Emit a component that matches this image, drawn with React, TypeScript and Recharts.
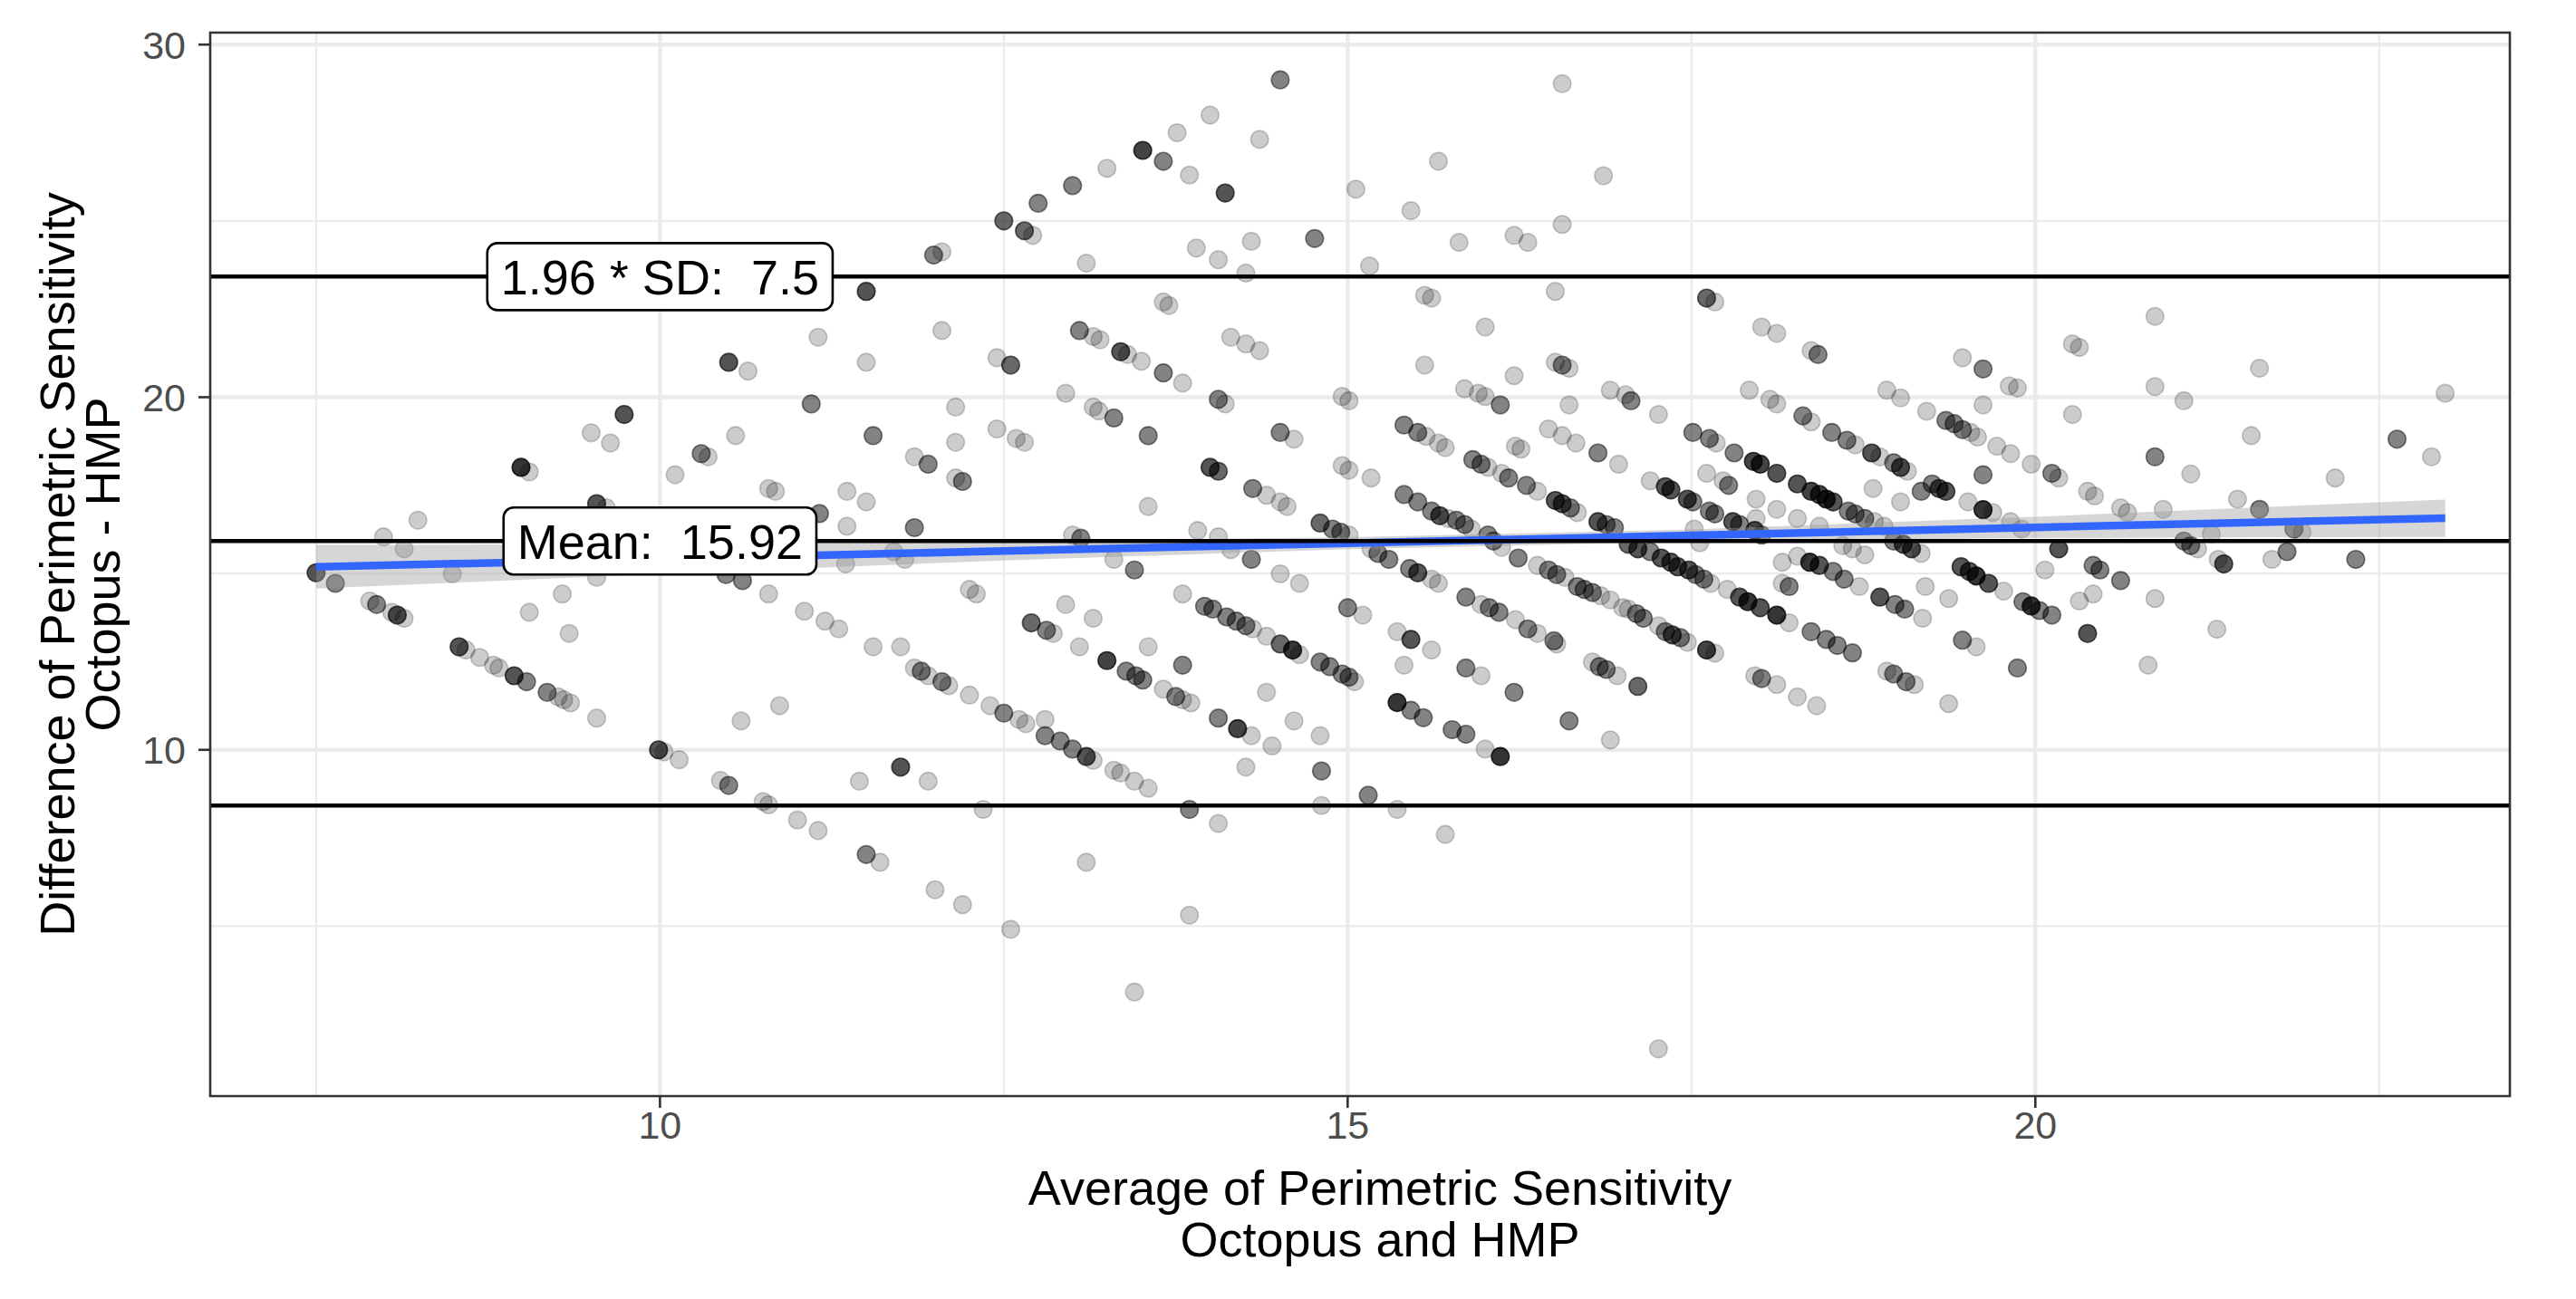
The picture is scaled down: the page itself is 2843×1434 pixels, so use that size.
import React from 'react'
import {
  ComposedChart,
  Scatter,
  Area,
  Line,
  XAxis,
  YAxis,
  ReferenceLine,
  ReferenceArea,
} from 'recharts'

const FONT = '"Liberation Sans", Arial, Helvetica, sans-serif'

// Bland-Altman observations: [average, difference, overlapping observations]
const obs: [number, number, number][] = [
  [7.5, 15.02, 5], [7.64, 14.72, 3], [7.89, 14.22, 1], [7.94, 14.12, 3], [8.05, 13.9, 1], [8.09, 13.82, 5],
  [8.14, 13.73, 1], [7.99, 16.04, 1], [8.14, 15.7, 1], [8.24, 16.51, 1], [8.49, 14.99, 1], [8.54, 12.92, 5],
  [8.59, 12.83, 1], [8.69, 12.62, 1], [8.79, 12.4, 1], [8.83, 12.32, 1], [8.94, 12.1, 5], [9.03, 11.93, 3],
  [9.18, 11.63, 3], [9.26, 11.5, 1], [9.3, 11.42, 1], [9.35, 11.33, 1], [9.54, 10.9, 1], [8.99, 18.01, 7],
  [9.05, 17.88, 1], [9.5, 18.99, 1], [9.64, 18.7, 1], [9.74, 19.51, 5], [9.54, 16.98, 5], [9.61, 16.86, 1],
  [9.29, 14.42, 1], [9.05, 13.9, 1], [9.34, 13.3, 1], [9.54, 14.89, 1], [10.11, 17.8, 1], [10.3, 18.4, 3],
  [10.35, 18.31, 1], [10.55, 18.91, 1], [10.79, 17.41, 1], [10.84, 17.33, 1], [10.48, 14.97, 3], [10.6, 14.8, 3],
  [10.79, 14.42, 1], [10.87, 11.25, 1], [10.59, 10.82, 1], [9.99, 10.0, 5], [10.03, 9.94, 1], [10.14, 9.72, 1],
  [10.44, 9.13, 1], [10.5, 8.99, 3], [10.75, 8.53, 1], [10.79, 8.44, 1], [10.5, 20.99, 5], [10.64, 20.74, 1],

  [14.51, 29.0, 3], [14.0, 28.0, 1], [13.76, 27.5, 1], [13.51, 27.0, 6], [13.66, 26.69, 3], [13.85, 26.3, 1],
  [14.11, 25.79, 5], [14.36, 27.31, 1], [13.25, 26.49, 1], [13.0, 26.0, 3], [12.75, 25.5, 3], [12.5, 25.0, 4],
  [12.65, 24.72, 4], [12.71, 24.59, 1], [15.06, 25.9, 1], [14.76, 24.5, 3], [14.3, 24.42, 1], [13.9, 24.23, 1],
  [14.06, 23.9, 1], [14.26, 23.52, 1], [13.1, 23.8, 1], [11.99, 24.03, 3], [12.05, 24.12, 1], [11.5, 23.0, 5],
  [11.15, 21.7, 1], [11.5, 20.99, 1], [12.05, 21.89, 1], [12.45, 21.12, 1], [12.55, 20.91, 4], [13.05, 21.89, 3],
  [13.15, 21.72, 1], [13.2, 21.63, 1], [13.35, 21.29, 5], [13.4, 21.21, 1], [13.5, 21.02, 1], [13.66, 20.69, 3],
  [13.8, 20.4, 1], [13.66, 22.7, 1], [13.7, 22.6, 1], [14.15, 21.7, 1], [14.26, 21.51, 1], [14.36, 21.32, 1],

  [16.56, 28.89, 1], [15.66, 26.69, 1], [16.86, 26.28, 1], [15.46, 25.29, 1], [16.56, 24.9, 1], [15.81, 24.39, 1],
  [16.21, 24.59, 1], [16.31, 24.39, 1], [15.16, 23.72, 1], [15.56, 22.89, 1], [15.61, 22.81, 1], [16.51, 23.0, 1],
  [16.0, 21.99, 1], [17.61, 22.81, 4], [17.67, 22.7, 1], [18.01, 21.99, 1], [18.12, 21.81, 1], [18.37, 21.32, 1],
  [18.42, 21.21, 3], [15.56, 20.91, 1], [16.21, 20.61, 1], [16.51, 20.99, 1], [16.56, 20.91, 3], [16.61, 20.82, 1],
  [20.87, 22.29, 1], [20.27, 21.51, 1], [20.32, 21.41, 1], [19.47, 21.12, 1], [19.62, 20.8, 3], [21.63, 20.82, 1],

  [11.1, 19.81, 3], [12.15, 19.72, 1], [11.55, 18.91, 3], [12.15, 18.72, 1], [11.85, 18.31, 1], [11.95, 18.1, 3],
  [12.15, 17.71, 1], [12.2, 17.61, 3], [11.36, 17.33, 1], [11.5, 17.03, 1], [11.16, 16.7, 3], [11.36, 16.34, 1],
  [11.85, 16.3, 3], [11.7, 15.62, 1], [11.78, 15.4, 1], [11.35, 15.27, 1], [12.25, 14.55, 1], [12.3, 14.42, 1],
  [11.05, 13.93, 1], [11.2, 13.65, 1], [11.3, 13.43, 1], [11.55, 12.92, 1], [11.75, 12.92, 1], [11.85, 12.32, 1],
  [11.9, 12.23, 3], [11.95, 12.1, 1], [12.05, 11.93, 3], [12.1, 11.82, 1], [12.25, 11.55, 1], [12.4, 11.25, 1],
  [12.5, 11.04, 3], [12.61, 10.86, 1], [12.66, 10.74, 1], [12.8, 10.86, 1], [12.8, 10.4, 3], [12.91, 10.25, 3],
  [12.95, 20.11, 1], [12.45, 19.1, 1], [12.59, 18.83, 1], [12.65, 18.72, 1], [13.15, 19.72, 1], [13.19, 19.61, 1],
  [13.3, 19.41, 3], [13.55, 18.91, 3], [14.06, 19.94, 3], [14.11, 19.81, 1], [14.0, 18.01, 5], [14.06, 17.9, 4],
  [14.31, 17.41, 3], [14.41, 17.22, 1], [14.51, 17.03, 1], [14.56, 16.9, 1], [14.51, 19.0, 3], [14.61, 18.81, 1],
  [13.55, 16.9, 1], [13.91, 16.22, 1], [14.8, 16.43, 4], [14.89, 16.26, 3], [14.95, 16.17, 3], [15.01, 16.09, 1],
  [13.0, 16.09, 1], [13.06, 16.0, 3], [14.06, 16.04, 1], [14.15, 15.68, 1], [14.3, 15.4, 3], [13.3, 15.4, 1],
  [13.45, 15.1, 3], [14.51, 14.99, 1], [14.65, 14.72, 1], [13.8, 14.42, 1], [13.96, 14.07, 3], [14.02, 13.99, 3],
  [14.12, 13.77, 3], [14.19, 13.65, 3], [14.26, 13.52, 3], [14.31, 13.43, 1], [14.41, 13.22, 1], [14.51, 13.0, 4],
  [14.6, 12.83, 7], [14.65, 12.7, 1], [14.8, 12.49, 3], [14.87, 12.36, 3], [14.96, 12.15, 3], [15.01, 12.06, 3],
  [15.05, 11.93, 1], [15.0, 14.03, 3], [14.96, 20.02, 1], [15.01, 19.9, 1], [14.96, 18.06, 1], [15.01, 17.93, 1],
  [12.7, 13.6, 4], [12.81, 13.39, 3], [12.86, 13.3, 1], [12.95, 14.12, 1], [13.15, 13.73, 1], [13.05, 12.92, 1],
  [13.25, 12.53, 6], [13.39, 12.23, 3], [13.46, 12.1, 3], [13.51, 11.98, 3], [13.66, 11.72, 1], [13.75, 11.51, 3],
  [13.8, 11.42, 1], [13.86, 11.33, 1], [13.55, 12.92, 1], [13.8, 12.4, 3], [14.41, 11.63, 1], [14.06, 10.9, 3],
  [14.2, 10.6, 6], [14.3, 10.4, 1], [14.61, 10.82, 1], [14.8, 10.4, 1],

  [11.75, 9.51, 5], [11.45, 9.11, 1], [11.95, 9.11, 1], [12.35, 8.31, 1], [11.0, 8.01, 1], [11.15, 7.71, 1],
  [11.5, 7.03, 3], [11.6, 6.81, 1], [12.0, 6.03, 1], [12.2, 5.61, 1], [12.55, 4.91, 1], [13.0, 10.02, 3],
  [13.1, 9.81, 5], [13.15, 9.7, 1], [13.3, 9.42, 1], [13.35, 9.34, 1], [13.45, 9.11, 1], [13.55, 8.91, 1],
  [13.1, 6.81, 1], [13.45, 3.13, 1], [13.85, 8.31, 3], [14.06, 7.91, 1], [13.85, 5.31, 1], [14.26, 9.51, 1],
  [14.45, 10.11, 1], [14.81, 9.4, 3], [14.81, 8.42, 1],

  [15.85, 20.24, 1], [15.95, 20.11, 1], [16.0, 20.02, 1], [16.11, 19.78, 3], [16.61, 19.78, 1], [16.91, 20.2, 1],
  [17.02, 20.07, 1], [17.06, 19.9, 3], [17.26, 19.51, 1], [17.92, 20.2, 1], [18.07, 19.94, 1], [18.12, 19.81, 1],
  [18.31, 19.47, 3], [18.37, 19.3, 1], [18.52, 19.0, 3], [18.63, 18.78, 3], [18.69, 18.65, 1], [18.81, 18.42, 5],
  [18.87, 18.31, 1], [18.97, 18.14, 3], [19.02, 18.01, 5], [19.07, 17.9, 1], [18.92, 20.2, 1], [19.02, 19.98, 1],
  [19.17, 17.33, 3], [19.21, 19.6, 1], [15.41, 19.21, 3], [15.51, 19.0, 3], [15.57, 18.89, 1], [15.66, 18.7, 1],
  [15.71, 18.57, 1], [16.46, 19.1, 1], [16.56, 18.91, 1], [16.66, 18.7, 1], [16.82, 18.42, 3], [16.97, 18.1, 1],
  [16.22, 18.61, 1], [16.26, 18.53, 1], [15.17, 17.71, 1], [15.91, 18.23, 3], [15.97, 18.1, 3], [16.02, 18.01, 1],
  [16.12, 17.84, 1], [16.17, 17.71, 3], [16.3, 17.5, 3], [16.38, 17.33, 1], [16.51, 17.07, 5], [16.56, 16.98, 5],
  [16.62, 16.86, 3], [16.67, 16.73, 1], [16.82, 16.47, 5], [16.88, 16.39, 3], [16.94, 16.3, 3], [17.2, 17.63, 1],
  [17.31, 17.46, 5], [17.35, 17.37, 5], [17.47, 17.11, 5], [17.51, 17.03, 3], [17.63, 16.77, 3], [17.67, 16.69, 3],
  [17.8, 16.47, 5], [17.85, 16.39, 3], [17.96, 16.22, 5], [18.01, 16.09, 3], [17.51, 19.0, 3], [17.63, 18.83, 3],
  [17.68, 18.7, 1], [17.81, 18.42, 3], [17.95, 18.18, 6], [18.0, 18.1, 6], [18.12, 17.84, 5], [17.61, 17.84, 1],
  [17.73, 17.63, 1], [17.77, 17.5, 3], [18.27, 17.54, 5], [18.37, 17.33, 6], [18.43, 17.24, 6], [18.48, 17.11, 7],
  [18.53, 17.03, 5], [18.64, 16.77, 3], [18.69, 16.69, 3], [18.76, 16.56, 3], [18.83, 16.47, 1], [18.9, 16.34, 1],
  [17.97, 17.11, 1], [18.12, 16.82, 1], [18.27, 16.56, 1], [17.97, 16.56, 1], [17.52, 16.26, 1], [17.56, 15.87, 1],
  [18.43, 16.34, 1], [18.82, 17.41, 1], [19.02, 17.03, 1], [18.97, 15.92, 3], [19.04, 15.83, 5], [19.1, 15.7, 5],
  [19.17, 15.57, 1], [18.6, 15.79, 1], [18.67, 15.7, 1], [18.76, 15.53, 1], [18.16, 15.32, 1], [18.27, 15.49, 1],
  [18.36, 15.32, 7], [18.43, 15.23, 5], [18.53, 15.06, 3], [18.61, 14.84, 3], [18.72, 14.63, 1], [18.16, 14.72, 1],
  [18.21, 14.63, 3], [18.87, 14.33, 5], [18.98, 14.12, 3], [19.05, 13.99, 3], [19.18, 13.73, 1], [19.2, 14.63, 1],
  [17.76, 14.55, 1], [17.85, 14.33, 5], [17.91, 14.2, 7], [18.0, 14.03, 5], [18.12, 13.82, 7], [18.21, 13.6, 1],
  [18.37, 13.35, 3], [18.48, 13.13, 3], [18.56, 12.96, 3], [18.67, 12.75, 3], [18.92, 12.23, 1], [18.97, 12.15, 3],
  [19.06, 11.93, 3], [19.12, 11.85, 1], [17.96, 12.1, 1], [18.01, 12.02, 3], [18.12, 11.85, 1], [18.27, 11.5, 1],
  [18.41, 11.25, 1], [17.31, 13.35, 3], [17.36, 13.26, 5], [17.42, 13.18, 3], [17.47, 13.05, 1], [17.61, 12.83, 6],
  [17.67, 12.74, 1], [17.11, 11.8, 4], [16.78, 12.49, 1], [16.83, 12.36, 3], [16.88, 12.28, 3], [16.96, 12.1, 1],
  [17.04, 13.99, 1], [17.1, 13.86, 3], [17.15, 13.73, 3], [17.26, 13.52, 1], [16.67, 14.63, 3], [16.72, 14.55, 3],
  [16.78, 14.46, 3], [16.84, 14.37, 1], [16.91, 14.25, 1], [17.0, 14.03, 1], [17.04, 15.83, 4], [17.11, 15.7, 5],
  [17.2, 15.62, 3], [17.28, 15.44, 5], [17.35, 15.32, 5], [17.4, 15.19, 5], [17.48, 15.1, 5], [17.53, 14.97, 3],
  [17.59, 14.84, 3], [17.64, 14.72, 1], [16.24, 15.44, 3], [16.38, 15.23, 1], [16.46, 15.1, 3], [16.52, 14.97, 3],
  [16.58, 14.89, 1], [16.02, 16.09, 3], [16.06, 15.92, 3], [16.12, 15.74, 1], [15.79, 16.51, 3], [15.85, 16.39, 3],
  [15.9, 16.26, 1], [15.61, 16.77, 3], [15.67, 16.64, 5], [15.73, 16.56, 1], [15.41, 17.24, 3], [15.51, 17.03, 3],
  [15.17, 15.7, 1], [15.22, 15.57, 3], [15.3, 15.4, 3], [15.45, 15.14, 3], [15.51, 15.02, 5], [15.61, 14.84, 1],
  [15.66, 14.72, 1], [15.86, 14.33, 3], [15.97, 14.12, 1], [16.03, 14.03, 3], [16.1, 13.9, 3], [16.22, 13.69, 1],
  [16.31, 13.43, 3], [16.38, 13.3, 1], [16.5, 13.09, 3], [16.52, 13.0, 1], [15.11, 13.82, 1], [15.36, 13.35, 1],
  [15.46, 13.13, 5], [15.61, 12.83, 1], [15.41, 12.4, 1], [15.86, 12.32, 3], [15.97, 12.1, 1], [16.21, 11.63, 3],
  [15.36, 11.34, 7], [15.46, 11.12, 3], [15.55, 10.91, 3], [15.76, 10.57, 3], [15.86, 10.44, 3], [16.61, 10.82, 3],
  [16.91, 10.28, 1],

  [16.0, 10.02, 1], [16.11, 9.81, 7], [15.15, 8.71, 3], [15.36, 8.31, 1], [15.71, 7.6, 1], [17.26, 1.52, 1],

  [19.81, 20.32, 1], [19.87, 20.26, 1], [20.87, 20.3, 1], [21.08, 19.9, 1], [22.98, 20.11, 1], [19.62, 19.78, 1],
  [20.27, 19.51, 1], [19.35, 19.34, 3], [19.41, 19.25, 3], [19.47, 19.08, 3], [19.53, 19.0, 1], [19.58, 18.87, 1],
  [19.72, 18.61, 1], [19.82, 18.4, 1], [19.97, 18.1, 1], [20.12, 17.84, 3], [20.17, 17.71, 1], [19.62, 17.8, 3],
  [20.87, 18.31, 3], [21.13, 17.82, 1], [21.57, 18.91, 1], [22.63, 18.81, 3], [22.88, 18.31, 1], [22.18, 17.71, 1],
  [19.25, 17.54, 3], [19.3, 17.41, 5], [19.35, 17.33, 5], [19.51, 17.03, 1], [19.62, 16.81, 7], [19.69, 16.73, 1],
  [20.38, 17.33, 1], [20.43, 17.2, 1], [20.62, 16.86, 1], [20.67, 16.73, 1], [20.93, 16.82, 1], [21.47, 17.11, 1],
  [21.63, 16.82, 3], [19.82, 16.47, 1], [19.9, 16.26, 1], [20.17, 15.7, 5], [20.07, 15.1, 1], [20.42, 15.23, 3],
  [20.47, 15.1, 3], [20.62, 14.8, 3], [21.08, 15.92, 3], [21.13, 15.79, 3], [21.18, 15.7, 1], [21.28, 16.12, 1],
  [21.88, 16.26, 3], [21.94, 16.17, 1], [21.33, 15.4, 1], [21.37, 15.27, 5], [21.72, 15.4, 1], [21.83, 15.62, 3],
  [22.33, 15.4, 3], [19.46, 15.19, 5], [19.52, 15.06, 5], [19.57, 14.93, 7], [19.66, 14.72, 5], [19.77, 14.5, 1],
  [19.37, 14.29, 1], [19.91, 14.2, 3], [19.97, 14.08, 7], [20.03, 13.95, 3], [20.12, 13.82, 3], [20.32, 14.22, 1],
  [20.42, 14.42, 1], [20.87, 14.29, 1], [20.38, 13.3, 5], [19.47, 13.11, 3], [19.57, 12.92, 1], [19.87, 12.32, 3],
  [21.32, 13.42, 1], [20.82, 12.4, 1], [19.37, 11.31, 1],
]

// limits of agreement
const meanDiff = 15.92
const sd196 = 7.5
const upperLoA = meanDiff + sd196
const lowerLoA = meanDiff - sd196

// linear smooth with its confidence band
const fitAvg = [7.5, 10, 12.5, 15, 17.5, 20, 22.98]
const fitDiff = [15.19, 15.41, 15.64, 15.86, 16.08, 16.31, 16.57]
const fitLow = [14.57, 14.99, 15.37, 15.69, 15.91, 16.01, 16.04]
const fitHigh = [15.81, 15.83, 15.91, 16.03, 16.25, 16.61, 17.1]

const xDomain: [number, number] = [6.73, 23.45]
const yDomain: [number, number] = [0.18, 30.34]
const xMajor = [10, 15, 20]
const xMinor = [7.5, 12.5, 17.5, 22.5]
const yMajor = [10, 20, 30]
const yMinor = [5, 15, 25]

const xTitle = ['Average of Perimetric Sensitivity', 'Octopus and HMP']
const yTitle = ['Difference of Perimetric Sensitivity', 'Octopus - HMP']

const points = obs.map(([x, y, n]) => ({ x, y, n }))
const fitRows = fitAvg.map((x, i) => ({ x, fit: fitDiff[i], band: [fitLow[i], fitHigh[i]] }))
const labelRows = [
  { x: 10, y: upperLoA, text: `1.96 * SD:  ${sd196}` },
  { x: 10, y: meanDiff, text: `Mean:  ${meanDiff}` },
]

let ctx: CanvasRenderingContext2D | null = null
function textWidth(s: string, size: number) {
  if (!ctx) ctx = document.createElement('canvas').getContext('2d')
  if (!ctx) return s.length * size * 0.5
  ctx.font = `${size}px ${FONT}`
  return ctx.measureText(s).width
}

function Dot(props: any) {
  const { cx, cy } = props
  const n = props.payload?.n ?? props.n ?? 1
  const a = 1 - Math.pow(0.8, n)
  return (
    <circle cx={cx} cy={cy} r={9.8} fill="#000" fillOpacity={a} stroke="#000" strokeOpacity={a} strokeWidth={1.6} />
  )
}

function LabelBox(props: any) {
  const { cx, cy } = props
  const text: string = props.payload?.text ?? props.text
  const w = textWidth(text, 54) + 30
  const h = 74
  return (
    <g>
      <rect x={cx - w / 2} y={cy - h / 2} width={w} height={h} rx={11} fill="#fff" stroke="#000" strokeWidth={2.6} />
      <text x={cx} y={cy} dy="0.36em" textAnchor="middle" fontSize={54} fill="#000" style={{ whiteSpace: 'pre' }}>
        {text}
      </text>
    </g>
  )
}

function XTick(props: any) {
  const { x, y, payload } = props
  return (
    <text x={x} y={y} dy="0.71em" textAnchor="middle" fontSize={43} fill="#4D4D4D">
      {payload.value}
    </text>
  )
}

function YTick(props: any) {
  const { x, y, payload } = props
  return (
    <text x={x} y={y} dy="0.36em" textAnchor="end" fontSize={43} fill="#4D4D4D">
      {payload.value}
    </text>
  )
}

// two-line axis titles, each line its own text element
function XTitle(props: any) {
  const vb = props.viewBox
  const cx = vb.x + vb.width / 2 + 22
  return (
    <g>
      <text x={cx} y={vb.y + 120} textAnchor="middle" fontSize={54} fill="#000">
        {xTitle[0]}
      </text>
      <text x={cx} y={vb.y + 177} textAnchor="middle" fontSize={54} fill="#000">
        {xTitle[1]}
      </text>
    </g>
  )
}

function YTitle(props: any) {
  const vb = props.viewBox
  const cy = vb.y + vb.height / 2
  const b1 = 82
  const b2 = 132
  return (
    <g>
      <text x={b1} y={cy} transform={`rotate(-90 ${b1} ${cy})`} textAnchor="middle" fontSize={54} fill="#000">
        {yTitle[0]}
      </text>
      <text x={b2} y={cy} transform={`rotate(-90 ${b2} ${cy})`} textAnchor="middle" fontSize={54} fill="#000">
        {yTitle[1]}
      </text>
    </g>
  )
}

export default function App() {
  return (
    <div style={{ position: 'absolute', left: 0, top: 0, background: '#fff', fontFamily: FONT }}>
      <ComposedChart
        width={2843}
        height={1434}
        data={fitRows}
        margin={{ top: 36, right: 73, bottom: 0, left: 0 }}
        style={{ fontFamily: FONT }}
      >
        <XAxis
          type="number"
          dataKey="x"
          domain={xDomain}
          allowDataOverflow
          ticks={xMajor}
          interval={0}
          height={224}
          axisLine={false}
          tickSize={13}
          tickMargin={3}
          tickLine={{ stroke: '#333333', strokeWidth: 2.6 }}
          tick={<XTick />}
          label={{ content: (p: any) => <XTitle {...p} /> }}
        />
        <YAxis
          type="number"
          domain={yDomain}
          allowDataOverflow
          ticks={yMajor}
          interval={0}
          width={232}
          axisLine={false}
          tickSize={13}
          tickMargin={14}
          tickLine={{ stroke: '#333333', strokeWidth: 2.6 }}
          tick={<YTick />}
          label={{ content: (p: any) => <YTitle {...p} /> }}
        />

        {xMinor.map((v) => (
          <ReferenceLine key={`xm${v}`} x={v} stroke="#EBEBEB" strokeWidth={2.2} zIndex={-100} />
        ))}
        {yMinor.map((v) => (
          <ReferenceLine key={`ym${v}`} y={v} stroke="#EBEBEB" strokeWidth={2.2} zIndex={-100} />
        ))}
        {xMajor.map((v) => (
          <ReferenceLine key={`xM${v}`} x={v} stroke="#EBEBEB" strokeWidth={4.4} zIndex={-90} />
        ))}
        {yMajor.map((v) => (
          <ReferenceLine key={`yM${v}`} y={v} stroke="#EBEBEB" strokeWidth={4.4} zIndex={-90} />
        ))}

        <Scatter data={points} dataKey="y" shape={<Dot />} isAnimationActive={false} zIndex={600} />

        <Area
          dataKey="band"
          type="linear"
          fill="#999999"
          fillOpacity={0.4}
          stroke="none"
          activeDot={false}
          isAnimationActive={false}
          zIndex={700}
        />
        <Line
          dataKey="fit"
          type="linear"
          stroke="#3366FF"
          strokeWidth={8.5}
          dot={false}
          activeDot={false}
          isAnimationActive={false}
          zIndex={800}
        />

        <ReferenceLine y={upperLoA} stroke="#000" strokeWidth={4.5} zIndex={900} />
        <ReferenceLine y={meanDiff} stroke="#000" strokeWidth={4.5} zIndex={900} />
        <ReferenceLine y={lowerLoA} stroke="#000" strokeWidth={4.5} zIndex={900} />

        <Scatter data={labelRows} dataKey="y" shape={<LabelBox />} isAnimationActive={false} zIndex={1000} />

        <ReferenceArea
          x1={xDomain[0]}
          x2={xDomain[1]}
          y1={yDomain[0]}
          y2={yDomain[1]}
          fill="none"
          stroke="#333333"
          strokeWidth={2.6}
          ifOverflow="visible"
          zIndex={1100}
        />
      </ComposedChart>
    </div>
  )
}
